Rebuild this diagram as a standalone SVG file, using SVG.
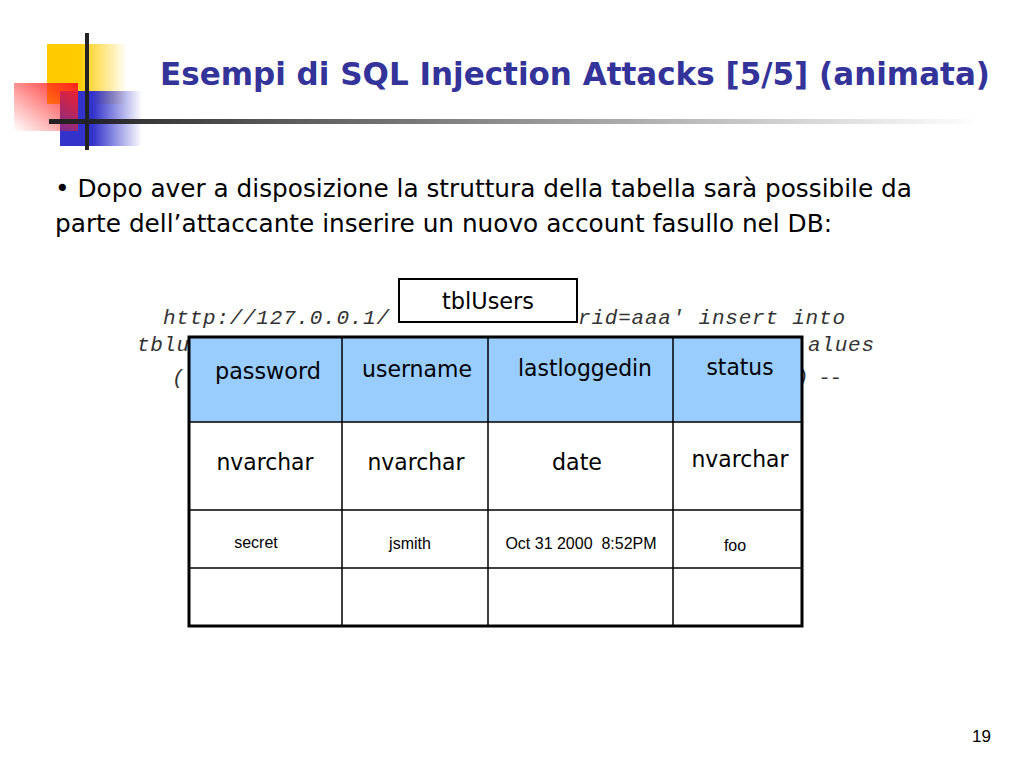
<svg xmlns="http://www.w3.org/2000/svg" width="1024" height="768" viewBox="0 0 1024 768">
<style>
.s{font-family:"DejaVu Sans","Liberation Sans",sans-serif;fill:#000}
.m{font-family:"Liberation Mono","Courier New",monospace;font-style:italic;font-size:21px;fill:#333}
.c{stroke:#000;stroke-width:1.5;fill:none}
</style>
<defs>
<linearGradient id="gy" x1="0" x2="1"><stop offset="0.4" stop-color="#FFCC00"/><stop offset="1" stop-color="#FFCC00" stop-opacity="0"/></linearGradient>
<linearGradient id="gb" x1="0" x2="1"><stop offset="0.4" stop-color="#3333CC"/><stop offset="1" stop-color="#3333CC" stop-opacity="0"/></linearGradient>
<linearGradient id="gr" x1="1" x2="0" y1="0" y2="1"><stop offset="0" stop-color="#FF2020"/><stop offset="1" stop-color="#FF2020" stop-opacity="0"/></linearGradient>
<linearGradient id="gl" x1="0" x2="1"><stop offset="0" stop-color="#222"/><stop offset="1" stop-color="#222" stop-opacity="0"/></linearGradient>
</defs>
<rect width="1024" height="768" fill="#fff"/>
<g id="logo">
<rect x="47" y="44" width="80" height="60" fill="url(#gy)"/>
<rect x="60" y="91" width="82" height="55" fill="url(#gb)"/>
<rect x="14" y="83" width="64" height="48" fill="url(#gr)"/>
<rect x="49" y="119" width="930" height="5" fill="url(#gl)"/>
<rect x="85" y="33" width="4" height="117" fill="#222"/>
</g>
<text class="s" x="160" y="85" font-size="32" font-weight="bold" style="fill:#333399" textLength="830" lengthAdjust="spacingAndGlyphs">Esempi di SQL Injection Attacks [5/5] (animata)</text>
<text class="s" x="55" y="197" font-size="25" textLength="857" lengthAdjust="spacingAndGlyphs">• Dopo aver a disposizione la struttura della tabella sarà possibile da</text>
<text class="s" x="55" y="232" font-size="25" textLength="777" lengthAdjust="spacingAndGlyphs">parte dell’attaccante inserire un nuovo account fasullo nel DB:</text>
<g id="code">
<text class="m" x="163" y="324" textLength="226">http://127.0.0.1/</text>
<text class="m" x="578" y="324" textLength="267">rid=aaa' insert into</text>
<text class="m" x="137" y="351" textLength="52">tblu</text>
<text class="m" x="808" y="351" textLength="66">alues</text>
<text class="m" x="172" y="384">(</text>
<text class="m" x="796" y="384" textLength="46">) --</text>
</g>
<g id="tblUsers">
<rect x="399" y="279" width="178" height="43" fill="#fff" stroke="#000" stroke-width="2"/>
<text class="s" x="488" y="309" font-size="23" text-anchor="middle" textLength="92" lengthAdjust="spacingAndGlyphs">tblUsers</text>
</g>
<g id="table">
<rect x="189" y="337" width="613" height="85" fill="#99CCFF"/>
<rect x="189" y="422" width="613" height="204" fill="#fff"/>
<path class="c" d="M189 422H802M189 510H802M189 568H802M342 337V626M488 337V626M673 337V626"/>
<rect x="189" y="337" width="613" height="289" fill="none" stroke="#000" stroke-width="3"/>
<g class="s" font-size="23" text-anchor="middle">
<text x="268" y="379" textLength="106" lengthAdjust="spacingAndGlyphs">password</text>
<text x="417" y="377" textLength="110" lengthAdjust="spacingAndGlyphs">username</text>
<text x="585" y="376" textLength="134" lengthAdjust="spacingAndGlyphs">lastloggedin</text>
<text x="740" y="375" textLength="67" lengthAdjust="spacingAndGlyphs">status</text>
<text x="265" y="470" textLength="97" lengthAdjust="spacingAndGlyphs">nvarchar</text>
<text x="416" y="470" textLength="97" lengthAdjust="spacingAndGlyphs">nvarchar</text>
<text x="577" y="470" textLength="50" lengthAdjust="spacingAndGlyphs">date</text>
<text x="740" y="467" textLength="97" lengthAdjust="spacingAndGlyphs">nvarchar</text>
</g>
<g class="s" font-size="16" text-anchor="middle" font-family="Liberation Sans">
<text x="256" y="548" style="font-family:'Liberation Sans'">secret</text>
<text x="410" y="549" style="font-family:'Liberation Sans'">jsmith</text>
<text x="581" y="549" xml:space="preserve" style="font-family:'Liberation Sans'">Oct 31 2000  8:52PM</text>
<text x="735" y="551" style="font-family:'Liberation Sans'">foo</text>
</g>
</g>
<text class="s" x="991" y="742" font-size="17" text-anchor="end" style="font-family:'Liberation Sans'">19</text>
</svg>
